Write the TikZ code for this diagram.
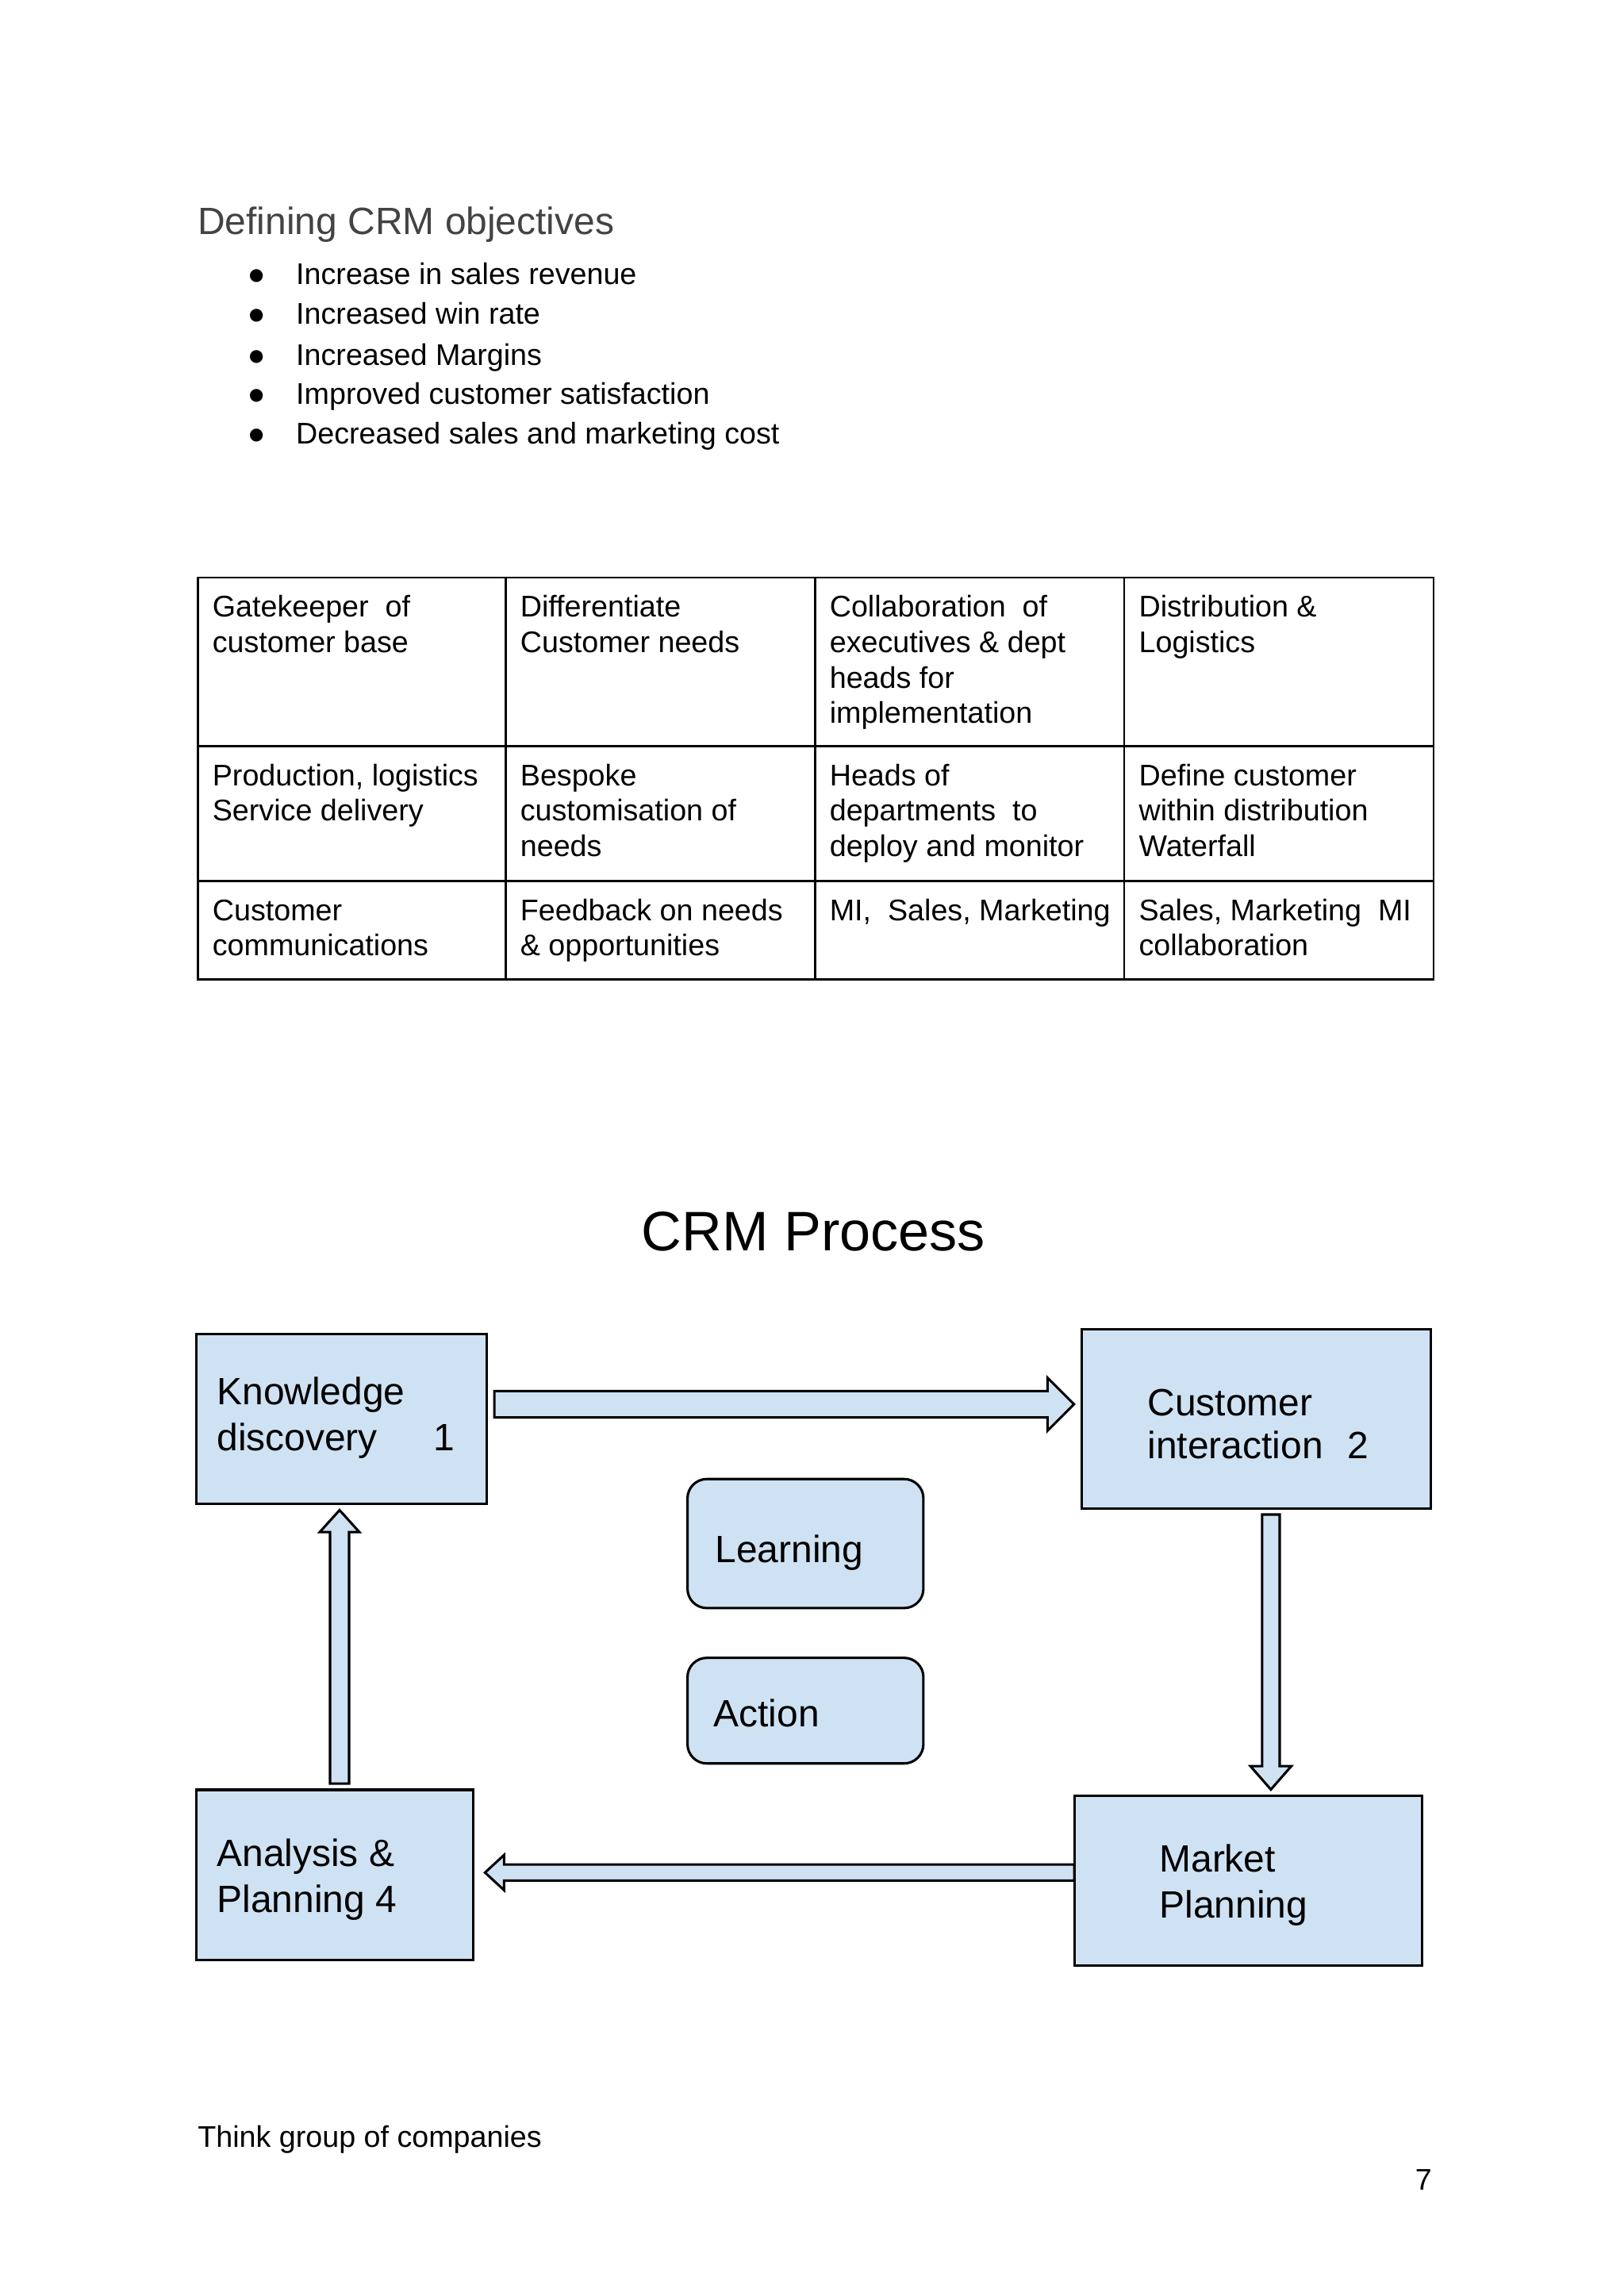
\documentclass[tikz,border=0pt]{standalone}
\usepackage{fontspec}
\setmainfont{Liberation Sans}
\usetikzlibrary{calc}
\definecolor{boxblue}{HTML}{CFE2F3}
\definecolor{headgrey}{HTML}{434343}
\tikzstyle{every node}=[inner sep=0pt, outer sep=0pt]
\tikzset{celltext/.style={anchor=north west, align=left, font=\fontsize{11}{13}\selectfont},
  bodytext/.style={anchor=base west, font=\fontsize{11}{13}\selectfont},
  boxtext/.style={anchor=north west, align=left, font=\fontsize{14}{17}\selectfont},
  procbox/.style={draw, line width=0.9pt, fill=boxblue, anchor=north west},
  roundbox/.style={procbox, rounded corners=0.25cm},
  arrowbox/.style={draw, line width=0.9pt, fill=boxblue, line join=miter},
  tableline/.style={line width=0.8pt}}
\newcommand{\blockarrow}[5]{%
  \coordinate (hb) at ($(#2)!#5!(#1)$);
  \draw[arrowbox] ($(#1)!#3!90:(#2)$) -- ($(hb)!#3!90:(#2)$) -- ($(hb)!#4!90:(#2)$) -- (#2)
    -- ($(hb)!#4!-90:(#2)$) -- ($(hb)!#3!-90:(#2)$) -- ($(#1)!#3!-90:(#2)$) -- cycle;}

\begin{document}
\begin{tikzpicture}
  \fill[white] (0,0) rectangle (21,-29.7);
  \useasboundingbox (0,0) rectangle (21,-29.7);

  \node[anchor=base west, text=headgrey, font=\fontsize{14}{17}\selectfont] (head) at (2.559,-3.034) {Defining CRM objectives};
  \foreach \y/\txt [count=\i] in {3.679/Increase in sales revenue, 4.190/Increased win rate,
      4.722/Increased Margins, 5.233/Improved customer satisfaction, 5.746/Decreased sales and marketing cost} {
    \node[bodytext, anchor=base] (dot\i) at (3.318,-\y) {●};
    \node[bodytext] (obj\i) at (3.830,-\y) {\txt};
  }

  \draw[tableline] (2.559,-7.471) rectangle (18.544,-12.666);
  \foreach \x in {6.541,10.543,14.543}
    \draw[tableline] (\x,-7.471) -- (\x,-12.666);
  \foreach \y in {9.651,11.396}
    \draw[tableline] (2.559,-\y) -- (18.544,-\y);
  \foreach \x/\y/\txt [count=\i] in {
      2.559/7.471/{Gatekeeper\ \ of\\customer base},
      6.541/7.471/{Differentiate\\Customer needs},
      10.543/7.471/{Collaboration\ \ of\\executives \& dept\\heads for\\implementation},
      14.543/7.471/{Distribution \&\\Logistics},
      2.559/9.651/{Production, logistics\\Service delivery},
      6.541/9.651/{Bespoke\\customisation of\\needs},
      10.543/9.651/{Heads of\\departments\ \ to\\deploy and monitor},
      14.543/9.651/{Define customer\\within distribution\\Waterfall},
      2.559/11.396/{Customer\\communications},
      6.541/11.396/{Feedback on needs\\\& opportunities},
      10.543/11.396/{MI,\ \ Sales, Marketing},
      14.543/11.396/{Sales, Marketing\ \ MI\\collaboration}}
    \node[celltext] (cell\i) at (\x+0.19,-\y-0.193) {\strut\txt};

  \node[anchor=base, font=\fontsize{20.5}{24}\selectfont] (title) at (10.523,-16.179) {CRM Process};

  \node[procbox, minimum width=3.754cm, minimum height=2.199cm] (kd) at (2.541,-17.255) {};
  \node[procbox, minimum width=4.513cm, minimum height=2.313cm] (ci) at (13.993,-17.198) {};
  \node[roundbox, minimum width=3.052cm, minimum height=1.669cm] (learn) at (8.893,-19.132) {};
  \node[roundbox, minimum width=3.052cm, minimum height=1.366cm] (act) at (8.893,-21.445) {};
  \node[procbox, minimum width=3.583cm, minimum height=2.2cm] (ap) at (2.541,-23.152) {};
  \node[procbox, minimum width=4.494cm, minimum height=2.199cm] (mp) at (13.898,-23.228) {};

  \node[boxtext] (kd-t) at ($(kd.north west)+(0.265,-0.493)$) {\strut Knowledge\\discovery\hspace{0.72cm}1};
  \node[boxtext, font=\fontsize{14}{15.7}\selectfont] (ci-t) at ($(ci.north west)+(0.853,-0.733)$) {\strut Customer\\interaction\hspace{0.32cm}2};
  \node[boxtext] (learn-t) at ($(learn.north west)+(0.36,-0.663)$) {\strut Learning};
  \node[boxtext] (act-t) at ($(act.north west)+(0.34,-0.474)$) {\strut Action};
  \node[boxtext] (ap-t) at ($(ap.north west)+(0.265,-0.569)$) {\strut Analysis \&\\Planning 4};
  \node[boxtext] (mp-t) at ($(mp.north west)+(1.1,-0.568)$) {\strut Market\\Planning};

  \coordinate (r1) at ($(kd.east)+(0.1,0.19)$);
  \coordinate (r2) at ($(r1 -| ci.west)+(-0.1,0)$);
  \coordinate (d1) at ($(ci.south)+(0.19,-0.08)$);
  \coordinate (d2) at ($(d1 |- mp.north)+(0,0.08)$);
  \coordinate (l1) at ($(mp.west)+(0,0.105)$);
  \coordinate (l2) at ($(l1 -| ap.east)+(0.15,0)$);
  \coordinate (u1) at ($(ap.north)+(0.06,0.08)$);
  \coordinate (u2) at ($(u1 |- kd.south)+(0,-0.08)$);
  \blockarrow{r1}{r2}{0.171cm}{0.342cm}{0.342cm}
  \blockarrow{d1}{d2}{0.114cm}{0.265cm}{0.303cm}
  \blockarrow{l1}{l2}{0.104cm}{0.227cm}{0.246cm}
  \blockarrow{u1}{u2}{0.123cm}{0.256cm}{0.284cm}

  \node[bodytext] (footer) at (2.559,-27.778) {Think group of companies};
  \node[bodytext, anchor=base east] (pageno) at (18.523,-28.326) {7};
\end{tikzpicture}
\end{document}
